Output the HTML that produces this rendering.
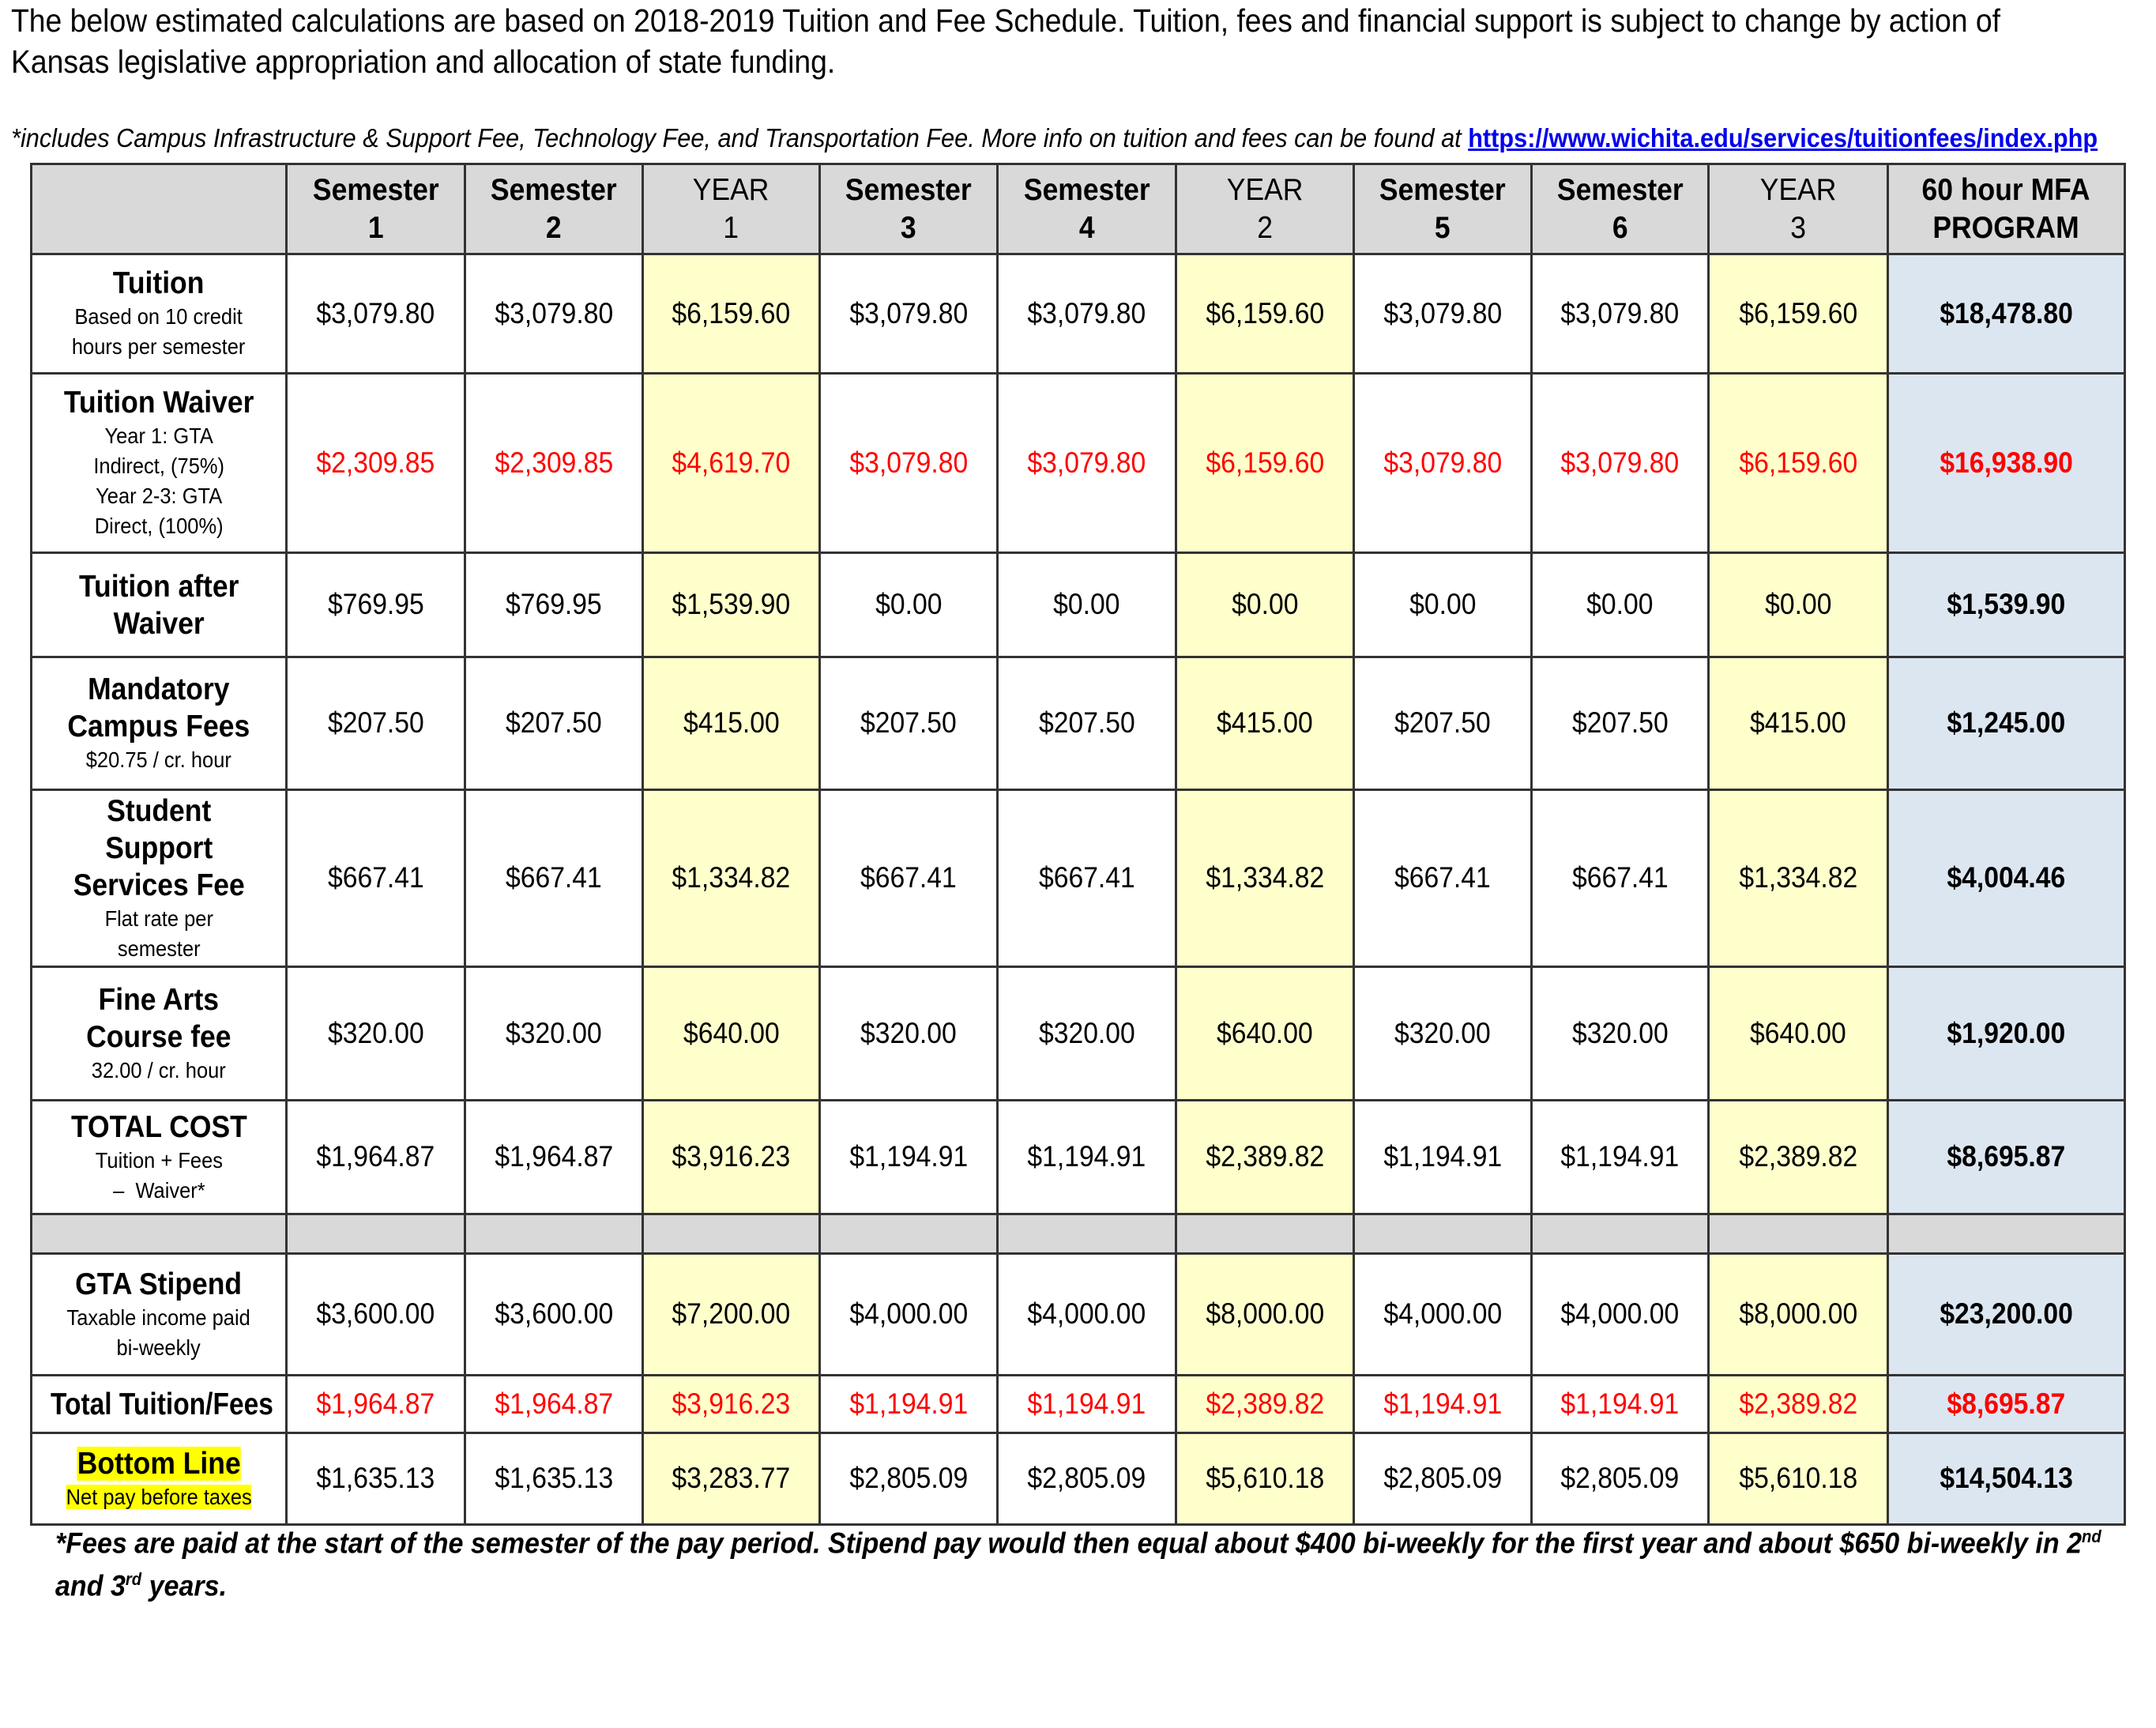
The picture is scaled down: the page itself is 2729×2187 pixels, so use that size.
<!DOCTYPE html>
<html><head><meta charset="utf-8"><style>
body{margin:0;width:2729px;height:2187px;background:#fff;position:relative;font-family:"Liberation Sans",sans-serif;color:#000;overflow:hidden}
.s{display:inline-block;transform:scaleX(.91);white-space:nowrap}
.t1{position:absolute;left:14px;top:0px;font-size:41px;line-height:52px;white-space:nowrap;transform:scaleX(.91);transform-origin:0 0}
.t2{position:absolute;left:14px;top:156px;font-size:33px;font-style:italic;white-space:nowrap;transform:scaleX(.93);transform-origin:0 0}
.t2 a{color:#0000ee;font-weight:bold;font-style:normal;text-decoration:underline}
table{position:absolute;left:38px;top:206px;border-collapse:collapse;table-layout:fixed;width:2650px}
td{border:3px solid #333;text-align:center;vertical-align:middle;font-size:37px;padding:0;line-height:1.2;white-space:nowrap;overflow:hidden}
.h{background:#d9d9d9;font-weight:bold;font-size:39px;line-height:48px}
.y{background:#ffffcc}.b{background:#dce6f1;font-weight:bold}
.r{color:#ff0000}
.l b{font-size:39px;display:block;line-height:47px}
.l i{font-style:normal;font-size:28px;display:block;line-height:38px}
.foot{position:absolute;left:70px;top:1922px;font-size:37px;font-style:italic;font-weight:bold;line-height:46px;white-space:nowrap;transform:scaleX(.92);transform-origin:0 0}
.hl{background:#ffff00}
</style></head><body>
<div class="t1">The below estimated calculations are based on 2018-2019 Tuition and Fee Schedule. Tuition, fees and financial support is subject to change by action of<br>Kansas legislative appropriation and allocation of state funding.</div>
<div class="t2">*includes Campus Infrastructure &amp; Support Fee, Technology Fee, and Transportation Fee. More info on tuition and fees can be found at <a>https://www.wichita.edu/services/tuitionfees/index.php</a></div>
<table>
<colgroup><col style="width:323px"><col style="width:226px"><col style="width:225px"><col style="width:224px"><col style="width:225px"><col style="width:226px"><col style="width:225px"><col style="width:225px"><col style="width:224px"><col style="width:227px"><col style="width:300px"></colgroup>
<tr style="height:114px"><td class="h"></td><td class="h"><span class="s">Semester<br>1</span></td><td class="h"><span class="s">Semester<br>2</span></td><td class="h" style="font-weight:normal"><span class="s">YEAR<br>1</span></td><td class="h"><span class="s">Semester<br>3</span></td><td class="h"><span class="s">Semester<br>4</span></td><td class="h" style="font-weight:normal"><span class="s">YEAR<br>2</span></td><td class="h"><span class="s">Semester<br>5</span></td><td class="h"><span class="s">Semester<br>6</span></td><td class="h" style="font-weight:normal"><span class="s">YEAR<br>3</span></td><td class="h"><span class="s">60 hour MFA<br>PROGRAM</span></td></tr>
<tr style="height:151px"><td class="l"><span class="s"><b>Tuition</b><i>Based on 10 credit<br>hours per semester</i></span></td><td><span class="s">$3,079.80</span></td><td><span class="s">$3,079.80</span></td><td class="y"><span class="s">$6,159.60</span></td><td><span class="s">$3,079.80</span></td><td><span class="s">$3,079.80</span></td><td class="y"><span class="s">$6,159.60</span></td><td><span class="s">$3,079.80</span></td><td><span class="s">$3,079.80</span></td><td class="y"><span class="s">$6,159.60</span></td><td class="b"><span class="s">$18,478.80</span></td></tr>
<tr style="height:227px" class="r"><td class="l" style="color:#000"><span class="s"><b>Tuition Waiver</b><i>Year 1: GTA<br>Indirect, (75%)<br>Year 2-3: GTA<br>Direct, (100%)</i></span></td><td><span class="s">$2,309.85</span></td><td><span class="s">$2,309.85</span></td><td class="y"><span class="s">$4,619.70</span></td><td><span class="s">$3,079.80</span></td><td><span class="s">$3,079.80</span></td><td class="y"><span class="s">$6,159.60</span></td><td><span class="s">$3,079.80</span></td><td><span class="s">$3,079.80</span></td><td class="y"><span class="s">$6,159.60</span></td><td class="b"><span class="s">$16,938.90</span></td></tr>
<tr style="height:132px"><td class="l"><span class="s"><b>Tuition after<br>Waiver</b></span></td><td><span class="s">$769.95</span></td><td><span class="s">$769.95</span></td><td class="y"><span class="s">$1,539.90</span></td><td><span class="s">$0.00</span></td><td><span class="s">$0.00</span></td><td class="y"><span class="s">$0.00</span></td><td><span class="s">$0.00</span></td><td><span class="s">$0.00</span></td><td class="y"><span class="s">$0.00</span></td><td class="b"><span class="s">$1,539.90</span></td></tr>
<tr style="height:168px"><td class="l"><span class="s"><b>Mandatory<br>Campus Fees</b><i>$20.75 / cr. hour</i></span></td><td><span class="s">$207.50</span></td><td><span class="s">$207.50</span></td><td class="y"><span class="s">$415.00</span></td><td><span class="s">$207.50</span></td><td><span class="s">$207.50</span></td><td class="y"><span class="s">$415.00</span></td><td><span class="s">$207.50</span></td><td><span class="s">$207.50</span></td><td class="y"><span class="s">$415.00</span></td><td class="b"><span class="s">$1,245.00</span></td></tr>
<tr style="height:224px"><td class="l"><span class="s"><b>Student<br>Support<br>Services Fee</b><i>Flat rate per<br>semester</i></span></td><td><span class="s">$667.41</span></td><td><span class="s">$667.41</span></td><td class="y"><span class="s">$1,334.82</span></td><td><span class="s">$667.41</span></td><td><span class="s">$667.41</span></td><td class="y"><span class="s">$1,334.82</span></td><td><span class="s">$667.41</span></td><td><span class="s">$667.41</span></td><td class="y"><span class="s">$1,334.82</span></td><td class="b"><span class="s">$4,004.46</span></td></tr>
<tr style="height:169px"><td class="l"><span class="s"><b>Fine Arts<br>Course fee</b><i>32.00 / cr. hour</i></span></td><td><span class="s">$320.00</span></td><td><span class="s">$320.00</span></td><td class="y"><span class="s">$640.00</span></td><td><span class="s">$320.00</span></td><td><span class="s">$320.00</span></td><td class="y"><span class="s">$640.00</span></td><td><span class="s">$320.00</span></td><td><span class="s">$320.00</span></td><td class="y"><span class="s">$640.00</span></td><td class="b"><span class="s">$1,920.00</span></td></tr>
<tr style="height:144px"><td class="l"><span class="s"><b>TOTAL COST</b><i>Tuition + Fees<br>&ndash;&nbsp; Waiver*</i></span></td><td><span class="s">$1,964.87</span></td><td><span class="s">$1,964.87</span></td><td class="y"><span class="s">$3,916.23</span></td><td><span class="s">$1,194.91</span></td><td><span class="s">$1,194.91</span></td><td class="y"><span class="s">$2,389.82</span></td><td><span class="s">$1,194.91</span></td><td><span class="s">$1,194.91</span></td><td class="y"><span class="s">$2,389.82</span></td><td class="b"><span class="s">$8,695.87</span></td></tr>
<tr style="height:50px"><td class="h"></td><td class="h"></td><td class="h"></td><td class="h"></td><td class="h"></td><td class="h"></td><td class="h"></td><td class="h"></td><td class="h"></td><td class="h"></td><td class="h"></td></tr>
<tr style="height:154px"><td class="l"><span class="s"><b>GTA Stipend</b><i>Taxable income paid<br>bi-weekly</i></span></td><td><span class="s">$3,600.00</span></td><td><span class="s">$3,600.00</span></td><td class="y"><span class="s">$7,200.00</span></td><td><span class="s">$4,000.00</span></td><td><span class="s">$4,000.00</span></td><td class="y"><span class="s">$8,000.00</span></td><td><span class="s">$4,000.00</span></td><td><span class="s">$4,000.00</span></td><td class="y"><span class="s">$8,000.00</span></td><td class="b"><span class="s">$23,200.00</span></td></tr>
<tr style="height:73px" class="r"><td class="l" style="color:#000"><span class="s" style="transform:scaleX(.86)"><b>Total Tuition/Fees</b></span></td><td><span class="s">$1,964.87</span></td><td><span class="s">$1,964.87</span></td><td class="y"><span class="s">$3,916.23</span></td><td><span class="s">$1,194.91</span></td><td><span class="s">$1,194.91</span></td><td class="y"><span class="s">$2,389.82</span></td><td><span class="s">$1,194.91</span></td><td><span class="s">$1,194.91</span></td><td class="y"><span class="s">$2,389.82</span></td><td class="b"><span class="s">$8,695.87</span></td></tr>
<tr style="height:116px"><td class="l"><span class="s"><b><span class="hl">Bottom Line</span></b><i><span class="hl">Net pay before taxes</span></i></span></td><td><span class="s">$1,635.13</span></td><td><span class="s">$1,635.13</span></td><td class="y"><span class="s">$3,283.77</span></td><td><span class="s">$2,805.09</span></td><td><span class="s">$2,805.09</span></td><td class="y"><span class="s">$5,610.18</span></td><td><span class="s">$2,805.09</span></td><td><span class="s">$2,805.09</span></td><td class="y"><span class="s">$5,610.18</span></td><td class="b"><span class="s">$14,504.13</span></td></tr>
</table>
<div class="foot">*Fees are paid at the start of the semester of the pay period. Stipend pay would then equal about $400 bi-weekly for the first year and about $650 bi-weekly in 2<sup style="font-size:22px">nd</sup><br>and 3<sup style="font-size:22px">rd</sup> years.</div>
</body></html>
